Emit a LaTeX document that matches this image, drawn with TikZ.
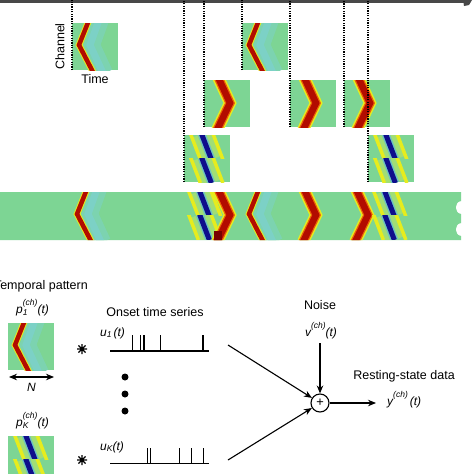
\documentclass[tikz,border=0pt]{standalone}
\usepackage{fontspec}
\setmainfont{Liberation Sans}
\usetikzlibrary{arrows.meta}

\definecolor{bg}{RGB}{125,213,148}
\definecolor{wake}{RGB}{124,208,210}
\definecolor{rd}{RGB}{178,12,0}
\definecolor{drd}{RGB}{120,0,0}
\definecolor{org}{RGB}{236,96,8}
\definecolor{yl}{RGB}{230,236,30}
\definecolor{ygr}{RGB}{160,222,118}
\definecolor{bl}{RGB}{14,14,140}
\definecolor{lbl}{RGB}{110,196,190}
\definecolor{topbar}{RGB}{72,72,72}

\newcommand\patA{%
  \draw[wake!45!bg, line width=16pt] (29,-3) -- (20,22) -- (33,50);
  \draw[wake!80!bg, line width=7pt] (27,-3) -- (18,22) -- (31,50);
  \draw[yl, line width=6.5pt, line join=miter] (17,-3) -- (7,22) -- (21.5,50);
  \draw[rd, line width=4.5pt, line join=miter] (17,-3) -- (7,22) -- (21.5,50);
}
\newcommand\patB{%
  \draw[yl, line width=12pt, line join=miter] (14,-3) -- (26,23) -- (13,50);
  \draw[org, line width=9pt, line join=miter] (14,-3) -- (26,23) -- (13,50);
  \draw[rd, line width=6.5pt, line join=miter] (14,-3) -- (26,23) -- (13,50);
}
\newcommand\patC{%
  \foreach \k in {0,23.5}{%
    \begin{scope}
      \clip (-2,\k) rectangle (48,\k+23.5);
      \draw[ygr, line width=20pt] (17.6,\k-1) -- (27.4,\k+24.5);
      \draw[yl, line width=3.5pt] (6.6,\k-1) -- (16.4,\k+24.5);
      \draw[yl, line width=3.5pt] (29.1,\k-1) -- (38.9,\k+24.5);
      \draw[lbl, line width=8pt] (17.6,\k-1) -- (27.4,\k+24.5);
      \draw[bl, line width=5pt] (17.6,\k-1) -- (27.4,\k+24.5);
    \end{scope}
  }%
}
\newcommand\drawpat[2]{%
  \begin{scope}
    \clip (#1.north west) rectangle (#1.south east);
    \begin{scope}[shift={(#1.north west)}]#2\end{scope}
  \end{scope}%
}
\newcommand\stripshape{(0,192) -- (461,192) -- (461,201) .. controls (454,202) and (454,213) .. (461,214) -- (461,223) .. controls (454,224) and (454,235) .. (461,236) -- (461,240) -- (0,240) -- cycle}

\newcommand\ssup[2]{\makebox[0pt][l]{\raisebox{-0.2em}{\fontsize{8.5}{9}\selectfont #2}}\raisebox{0.6em}{\fontsize{8.5}{9}\selectfont #1}}
\newcommand\sbs[1]{\raisebox{-0.15em}{\fontsize{8.5}{9}\selectfont #1}}

\tikzset{
  patch/.style={draw=none, fill=bg, minimum width=46pt, minimum height=47pt, inner sep=0pt, outer sep=0pt, anchor=north west},
  dotline/.style={black, line width=1.3pt, dash pattern=on 1.2pt off 1.2pt},
  txt/.style={font=\fontsize{12.5}{14}\selectfont, inner sep=0pt},
  lab/.style={font=\fontsize{12}{14}\selectfont\itshape, inner sep=0pt},
  arr/.style={line width=1.1pt, -{Stealth[length=8pt, width=6.5pt]}},
  ax/.style={line width=1.1pt},
  bdot/.style={circle, fill=black, minimum size=7pt, inner sep=0pt},
  astk/.pic={\draw[line width=1.1pt] (-5,0)--(5,0) (0,-5)--(0,5) (-3.6,-3.6)--(3.6,3.6) (-3.6,3.6)--(3.6,-3.6);}
}

\begin{document}
\begin{tikzpicture}[x=1pt, y=-1pt]
\useasboundingbox (0,0) rectangle (474,474);
\fill[white] (0,0) rectangle (474,474);

% top bar
\fill[topbar] (0,0) rectangle (470,3);
\fill[topbar] (463,0) -- (472,0) -- (469,5) -- (464,6) -- cycle;

% top patches
\node[patch] (r1a) at (72,23) {};
\node[patch] (r1b) at (242,23) {};
\node[patch] (r2a) at (204,80) {};
\node[patch] (r2b) at (290,80) {};
\node[patch] (r2c) at (344,80) {};
\node[patch] (r3a) at (184,135) {};
\node[patch] (r3b) at (368,135) {};
\drawpat{r1a}{\patA}
\drawpat{r1b}{\patA}
\drawpat{r2a}{\patB}
\drawpat{r2b}{\patB}
\drawpat{r2c}{\patB}
\drawpat{r3a}{\patC}
\drawpat{r3b}{\patC}

\node[txt, rotate=90] (chan) at (60,46.5) {Channel};
\node[txt] (time) at (95,79) {Time};

% dotted guides
\foreach \n in {r1a,r1b,r2a,r2b,r2c,r3a,r3b}
  \draw[dotline] (\n.south west) -- (\n.south west |- 0,0);

% composite strip
\fill[bg] \stripshape;
\begin{scope}
  \clip \stripshape;
  \begin{scope}[shift={(70,192)}]\patA\end{scope}
  \begin{scope}[shift={(242,192)}]\patA\end{scope}
  \begin{scope}[shift={(182,192)}]\patC\end{scope}
  \begin{scope}[shift={(204,192)}]\patB\end{scope}
  \begin{scope}[shift={(290,192)}]\patB\end{scope}
  \begin{scope}[shift={(342,192)}]\patB\end{scope}
  \begin{scope}[shift={(367,192)}]\patC\end{scope}
  \fill[drd] (214,231) rectangle (222,241);
\end{scope}

% bottom left
\node[txt, anchor=base east] (tp) at (88,289.5) {Temporal pattern};
\node[lab, anchor=base west] (p1l) at (16,313) {p\ssup{(ch)}{1}(t)};
\node[patch] (pp1) at (8,323) {};
\drawpat{pp1}{\patA}
\coordinate (na) at (9,377);
\coordinate (nb) at (54,377);
\draw[line width=1.1pt, {Stealth[length=8pt, width=6.5pt]}-{Stealth[length=8pt, width=6.5pt]}] (na) -- (nb);
\node[lab] (N) at (31.5,387) {N};

\node[lab, anchor=base west] (pKl) at (16,426) {p\ssup{(ch)}{K}(t)};
\node[patch] (ppK) at (8,436) {};
\drawpat{ppK}{\patC}

\pic at (82,349) {astk};
\pic at (82,460) {astk};

% onset series
\node[txt] (ots) at (155,312) {Onset time series};
\node[lab, anchor=base west] (u1) at (100,336) {u\sbs{1}\,(t)};
\coordinate (a1s) at (110,351);
\coordinate (a1e) at (209,351);
\draw[ax] (a1s) -- (a1e);
\foreach \x in {132.7,140.7,144,160.7,203} \draw[ax] (\x,351) -- (\x,335);

\node[bdot] (d1) at (125,377) {};
\node[bdot] (d2) at (125,394) {};
\node[bdot] (d3) at (125,411) {};

\node[lab, anchor=base west] (uK) at (100,450) {u\sbs{K}(t)};
\coordinate (a2s) at (110,463.5);
\coordinate (a2e) at (209,463.5);
\draw[ax] (a2s) -- (a2e);
\foreach \x in {147.5,150.5,179.3,191.7,203.3} \draw[ax] (\x,463.5) -- (\x,448);

% sum
\node[circle, draw, line width=1.1pt, minimum size=18pt, inner sep=0pt, font=\fontsize{13}{14}\selectfont\itshape] (sum) at (320,403) {+};
\coordinate (in1) at (228,345);
\coordinate (in2) at (228,460);
\draw[arr] (in1) -- (sum);
\draw[arr] (in2) -- (sum);

\node[txt] (noise) at (320,305) {Noise};
\node[lab, anchor=base] (vl) at (321,336) {v\ssup{(ch)}{}(t)};
\coordinate (vn) at (320,343);
\draw[arr] (vn) -- (sum);

\coordinate (yo) at (376,403);
\draw[arr] (sum) -- (yo);
\node[txt] (rsd) at (404,376) {Resting-state data};
\node[lab, anchor=base west] (yl) at (387,405) {y\ssup{(ch)}{}\,(t)};
\end{tikzpicture}
\end{document}
